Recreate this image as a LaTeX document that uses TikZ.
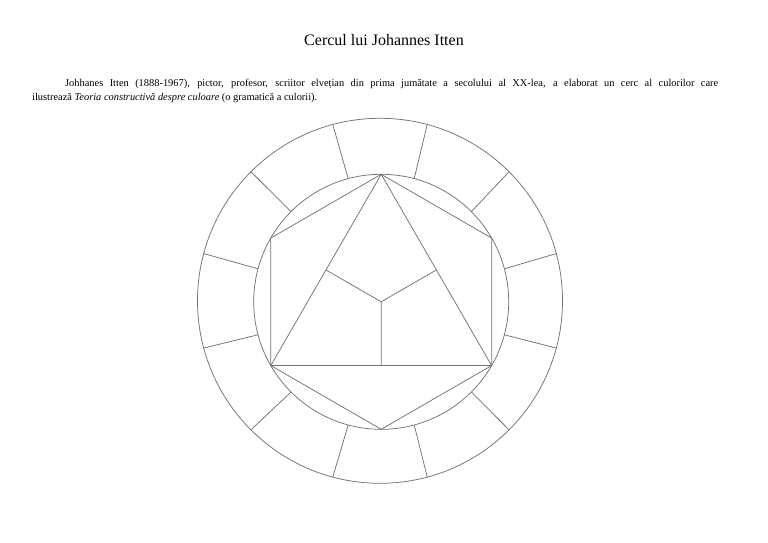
\documentclass[tikz,border=0pt]{standalone}
\usepackage{fontspec}
\setmainfont{Liberation Serif}
\usetikzlibrary{calc}
\begin{document}
\begin{tikzpicture}[x=1pt,y=-1pt,
  geo/.style={draw=black!55,line width=0.75pt},
  txt/.style={inner sep=0pt,anchor=base west,font=\fontsize{10.4}{12}\selectfont}]
\useasboundingbox[fill=white] (0,0) rectangle (768,543);
% title and text
\node[inner sep=0pt,anchor=base,font=\fontsize{16}{18}\selectfont] (title) at (384,46) {Cercul lui Johannes Itten};
\node[txt] (line1) at (65,86) {\makebox[653pt][s]{Johhanes Itten (1888-1967), pictor, profesor, scriitor elvețian din prima jumătate a secolului al XX-lea, a elaborat un cerc al culorilor care}};
\node[txt] (line2) at (32,100) {ilustrează \textit{Teoria constructivă despre culoare} (o gramatică a culorii).};
% centres
\coordinate (O) at (381.2,301.8);
\coordinate (Oo) at (380,300.8);
% circles
\draw[geo] (Oo) circle[radius=182.5];
\draw[geo] (O) circle[radius=127.5];
% ring dividers
\foreach \a in {15,45,...,345}{
  \draw[geo] ($(O)+(\a:127.5)$) -- ($(Oo)+(\a:182.5)$);
}
% hexagon vertices (y axis points down)
\coordinate (hT) at ($(O)+(-90:127.5)$);
\coordinate (hUR) at ($(O)+(-30:127.5)$);
\coordinate (hLR) at ($(O)+(30:127.5)$);
\coordinate (hB) at ($(O)+(90:127.5)$);
\coordinate (hLL) at ($(O)+(150:127.5)$);
\coordinate (hUL) at ($(O)+(210:127.5)$);
\draw[geo,line join=miter] (hT) -- (hUR) -- (hLR) -- (hB) -- (hLL) -- (hUL) -- cycle;
% triangle
\draw[geo] (hT) -- (hLR) -- (hLL) -- cycle;
% inner Y
\coordinate (mL) at ($(hT)!0.5!(hLL)$);
\coordinate (mR) at ($(hT)!0.5!(hLR)$);
\coordinate (mB) at ($(hLL)!0.5!(hLR)$);
\draw[geo] (O) -- (mL);
\draw[geo] (O) -- (mR);
\draw[geo] (O) -- (mB);
\end{tikzpicture}
\end{document}
